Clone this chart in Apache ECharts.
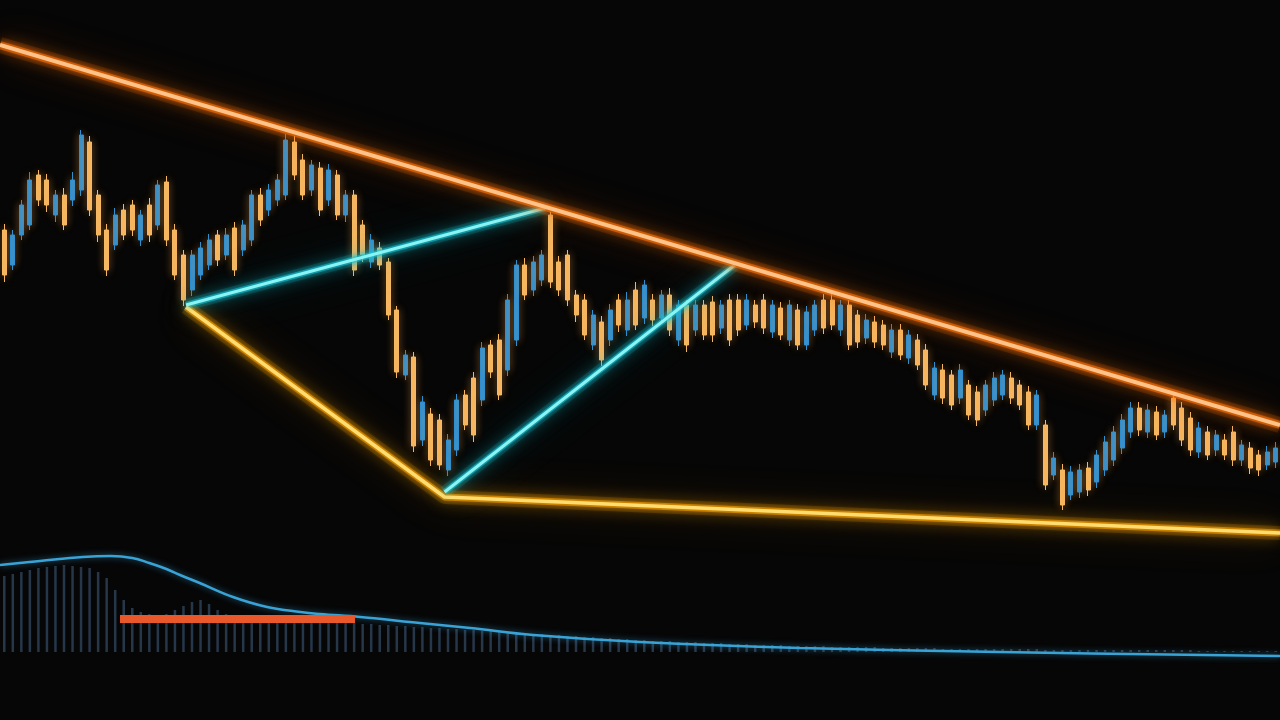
<!DOCTYPE html>
<html>
<head>
<meta charset="utf-8">
<script src="https://cdn.jsdelivr.net/npm/echarts@6/dist/echarts.min.js"></script>
<style>
html,body{margin:0;padding:0;background:#060606;}
#chart{width:1280px;height:720px;}
</style>
</head>
<body>
<div id="chart"></div>
<script>
// ---- candle data (150 bars) ----
const openP  = [490,455,485,495,545,540,505,525,520,530,578,525,490,475,510,515,480,515,495,538,490,465,430,445,455,485,465,492,470,480,
                525,510,520,525,578,560,530,552,520,545,505,525,495,458,472,458,410,345,363,280,306,300,250,270,325,342,320,375,380,350,
                380,455,430,440,505,458,465,425,420,375,398,380,420,390,430,402,420,402,425,380,415,390,415,418,392,420,420,395,415,420,
                388,412,380,410,375,390,420,420,390,415,405,382,398,395,368,390,362,380,370,325,350,345,322,335,328,310,320,325,342,335,
                328,295,295,245,250,225,228,252,238,250,260,272,288,312,288,308,288,322,312,302,268,288,270,280,288,260,272,265,255,258];
const closeP = [445,485,515,540,520,515,525,495,540,585,510,485,450,505,485,490,505,485,535,480,445,420,465,472,480,460,485,450,495,525,
                500,530,540,580,545,525,555,510,550,505,525,450,465,480,455,405,348,365,274,318,260,255,280,320,295,285,372,348,325,420,
                455,425,458,465,438,430,420,405,385,405,360,410,395,420,395,435,400,425,390,415,375,415,385,385,415,380,390,420,398,392,
                415,385,415,375,408,415,392,395,415,375,378,400,378,375,390,365,385,355,335,352,322,315,350,305,300,335,342,345,322,315,
                295,325,235,262,215,248,250,230,265,278,288,300,312,290,310,285,305,295,280,270,292,265,285,265,260,275,252,250,268,272];
const lowP   = [438,450,480,490,514,508,498,490,514,524,504,478,444,470,480,484,474,478,490,474,440,414,424,440,450,454,460,444,464,474,
                494,504,514,520,540,520,524,504,514,500,498,444,458,452,450,400,342,340,268,274,254,250,244,264,290,278,314,342,320,344,
                374,420,424,434,432,424,414,398,380,370,354,374,388,384,390,396,394,396,384,374,368,384,380,378,386,374,384,390,392,386,
                382,380,374,370,370,384,386,390,384,370,372,376,372,370,362,360,356,350,330,320,316,310,316,300,294,304,314,320,316,310,
                290,290,230,240,210,220,222,224,232,244,254,266,282,284,282,280,282,290,274,264,262,260,264,260,254,254,246,244,250,252];
const highP  = [496,490,520,548,550,546,530,532,548,590,584,530,496,512,516,520,510,522,540,544,496,470,470,478,486,490,492,498,500,530,
                532,536,546,586,584,566,560,558,556,550,530,530,500,486,478,462,414,370,368,324,312,306,286,326,330,348,378,380,386,426,
                460,462,464,470,508,464,470,430,426,410,404,416,426,428,438,440,426,430,432,420,420,420,420,424,420,426,426,426,420,426,
                420,418,420,416,414,420,426,426,420,420,410,406,404,400,396,396,390,386,376,358,356,350,356,340,334,340,348,350,348,340,
                334,330,300,268,256,254,256,258,270,284,294,306,318,318,316,314,310,326,318,308,298,294,290,286,294,280,278,270,274,278];

// ---- trend lines (x in bar index, y in price) ----
const resistX = [0, 150];          const resistY = [675, 295];
const supportX = [21.8, 52.1, 150]; const supportY = [413, 223, 187];
const innerAX = [21.8, 63.9];      const innerAY = [415, 512];
const innerBX = [52.1, 86.1];      const innerBY = [228, 455];

// ---- lower indicator ----
const histVals = [76,78,80,82,84,85,86,87,86,85,84,80,74,62,52,44,40,38,36,38,42,46,50,52,48,42,38,36,
                  35,35,34,34,33,33,32,32,
                  31,31,30,30,29,29,28,28,27,27,26,26,
                  25,25,24,24,23,23,22,22,21,21,20,
                  20,19,19,18,18,17,17,16,16,15,15,14,14,13,13,12,12,
                  11,11,11,10,10,10,9,9,9,8,8,8,7,7,7,7,6,6,6,
                  6,6,5,5,5,5,5,5,4,4,4,4,4,4,4,3,3,3,3,3,3,3,3,
                  3,3,3,3,2,2,2,2,2,2,2,2,2,2,2,2,2,2,2,2,2,2,1,1,1,1,1,1,1,1,1,1];
const sigX = [0, 4.7, 9.7, 13.0, 15.5, 17.5, 19.5, 21.1, 23.4, 27.3, 31.3, 35.2, 37.5, 42.2, 49.2, 55.1, 62.5, 75, 93.75, 117.2, 150];
const sigY = [87, 91, 95, 96, 94, 89, 83, 77, 69, 55, 45, 40, 38, 35, 29, 24, 17, 10, 4, 0, -4];
const markX = [14.06, 41.6];       const markY = [33, 33];

const zip = (xs, ys) => xs.map((x, i) => [x, ys[i]]);
const candles = openP.map((o, i) => [i + 0.5, o, closeP[i], lowP[i], highP[i]]);
const hist = histVals.map((v, i) => [i + 0.5, v]);

function glowLine(data, core, glow, xi, yi, z, w) {
  return [
    { type: 'line', xAxisIndex: xi, yAxisIndex: yi, data, symbol: 'none', silent: true, z: z,
      lineStyle: { color: glow, width: w * 4, opacity: 0.14, shadowBlur: 40, shadowColor: glow } },
    { type: 'line', xAxisIndex: xi, yAxisIndex: yi, data, symbol: 'none', silent: true, z: z + 1,
      lineStyle: { color: glow, width: w * 2, opacity: 0.55, shadowBlur: 16, shadowColor: glow } },
    { type: 'line', xAxisIndex: xi, yAxisIndex: yi, data, symbol: 'none', silent: true, z: z + 2,
      lineStyle: { color: core, width: w, shadowBlur: 6, shadowColor: glow } }
  ];
}

const chart = echarts.init(document.getElementById('chart'), null, { renderer: 'canvas' });
const hiddenX = (gi) => ({ type: 'value', gridIndex: gi, min: 0, max: 150, show: false });
chart.setOption({
  backgroundColor: '#060606',
  animation: false,
  grid: [
    { left: 0, right: 0, top: 0, height: 720 },
    { left: 0, right: 0, top: 540, height: 122 }
  ],
  xAxis: [hiddenX(0), hiddenX(1)],
  yAxis: [
    { type: 'value', gridIndex: 0, min: 0, max: 720, show: false },
    { type: 'value', gridIndex: 1, min: -10, max: 112, show: false }
  ],
  series: [
    { type: 'bar', xAxisIndex: 1, yAxisIndex: 1, data: hist, barWidth: 2.5, silent: true, z: 1,
      itemStyle: { color: 'rgba(62,88,120,0.6)' } },
    { type: 'candlestick', xAxisIndex: 0, yAxisIndex: 0, data: candles, barWidth: 4.5, silent: true, z: 3,
      encode: { x: 0, y: [1, 2, 3, 4] },
      itemStyle: { color: '#2f8fd0', color0: '#f6b862', borderColor: '#2f8fd0', borderColor0: '#f6b862',
                   borderWidth: 1, shadowBlur: 8, shadowColor: 'rgba(255,170,80,0.4)' } },
    ...glowLine(zip(supportX, supportY), '#ffdc70', '#ffa400', 0, 0, 5, 3.5),
    ...glowLine(zip(innerAX, innerAY), '#8af4f4', '#15c4d6', 0, 0, 5, 3),
    ...glowLine(zip(innerBX, innerBY), '#8af4f4', '#15c4d6', 0, 0, 5, 3),
    ...glowLine(zip(resistX, resistY), '#ffc38a', '#ff7308', 0, 0, 8, 4),
    { type: 'line', xAxisIndex: 1, yAxisIndex: 1, data: zip(sigX, sigY), smooth: 0.4, symbol: 'none', silent: true, z: 4,
      lineStyle: { color: '#3aa3d6', width: 2.5, shadowBlur: 6, shadowColor: 'rgba(58,163,214,0.6)' } },
    { type: 'line', xAxisIndex: 1, yAxisIndex: 1, data: zip(markX, markY), symbol: 'none', silent: true, z: 5,
      lineStyle: { color: '#e8582a', width: 8, cap: 'butt' } }
  ]
});
</script>
</body>
</html>
